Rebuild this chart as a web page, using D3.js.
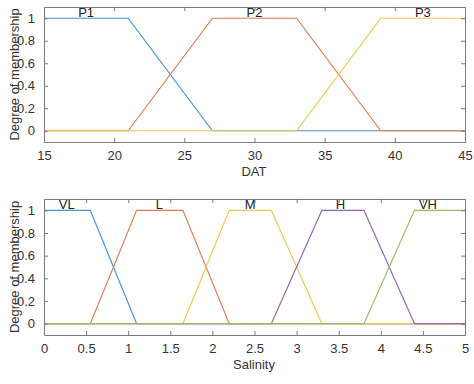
<!DOCTYPE html>
<html>
<head>
<meta charset="utf-8">
<script src="https://cdn.jsdelivr.net/npm/d3@7"></script>
<style>
body { margin: 0; background: #fff; }
text { font-family: Arial, "Liberation Sans", sans-serif; }
</style>
</head>
<body>
<svg width="474" height="384"></svg>
<script>
// membership functions, trapezoid break points [a, b, c, d]
var datNames = ['P1', 'P2', 'P3'];
var datParams = [[15, 15, 21, 27], [21, 27, 33, 39], [33, 39, 45, 45]];
var datLabelX = [18, 30, 42];
var datTicks = [15, 20, 25, 30, 35, 40, 45];

var salNames = ['VL', 'L', 'M', 'H', 'VH'];
var salParams = [[0, 0, 0.55, 1.1], [0.55, 1.1, 1.65, 2.2], [1.65, 2.2, 2.7, 3.3], [2.7, 3.3, 3.8, 4.4], [3.8, 4.4, 5, 5]];
var salLabelX = [0.27, 1.37, 2.45, 3.52, 4.56];
var salTicks = [0, 0.5, 1, 1.5, 2, 2.5, 3, 3.5, 4, 4.5, 5];

var yTicks = [0, 0.2, 0.4, 0.6, 0.8, 1];
var colors = ['#4a93cc', '#d97e5a', '#ebc94c', '#9066a8', '#99be66'];

var svg = d3.select('svg');
var fmt = d3.format('~g');

function trapPoints(p, lo, hi) {
    var pts = [];
    if (p[0] > lo) pts.push([lo, 0]);
    pts.push([p[0], p[0] == p[1] ? 1 : 0]);
    pts.push([p[1], 1]);
    pts.push([p[2], 1]);
    pts.push([p[3], p[2] == p[3] ? 1 : 0]);
    if (p[3] < hi) pts.push([hi, 0]);
    return pts;
}

function panel(top, bottom, domain, ticks, names, params, labelX, xlabel, xlabelY) {
    var x = d3.scaleLinear().domain(domain).range([44, 465]);
    var y = d3.scaleLinear().domain([-0.1, 1.1]).range([bottom, top]);
    var g = svg.append('g');

    var line = d3.line()
        .x(function(d){ return x(d[0]); })
        .y(function(d){ return y(d[1]); });

    g.selectAll('path.mf')
        .data(params)
        .enter()
        .append('path')
        .attr('class', 'mf')
        .attr('d', function(d){ return line(trapPoints(d, domain[0], domain[1])); })
        .attr('fill', 'none')
        .attr('stroke', function(d, i){ return colors[i]; })
        .attr('stroke-width', 1.2);

    g.selectAll('text.name')
        .data(names)
        .enter()
        .append('text')
        .attr('class', 'name')
        .attr('x', function(d, i){ return x(labelX[i]); })
        .attr('y', y(1) - 1.5)
        .attr('text-anchor', 'middle')
        .attr('fill', '#222')
        .style('font-size', '13px')
        .text(function(d){ return d; });

    // axes with inward ticks, box on
    var axisCol = '#7a7a7a';
    var xb = g.append('g').attr('transform', 'translate(0,' + bottom + ')')
        .call(d3.axisBottom(x).tickValues(ticks).tickSizeInner(-4).tickSizeOuter(0).tickPadding(9).tickFormat(fmt));
    var xt = g.append('g').attr('transform', 'translate(0,' + top + ')')
        .call(d3.axisTop(x).tickValues(ticks).tickSizeInner(-4).tickSizeOuter(0).tickFormat(''));
    var yl = g.append('g').attr('transform', 'translate(44,0)')
        .call(d3.axisLeft(y).tickValues(yTicks).tickSizeInner(-4).tickSizeOuter(0).tickPadding(9).tickFormat(fmt));
    var yr = g.append('g').attr('transform', 'translate(465,0)')
        .call(d3.axisRight(y).tickValues(yTicks).tickSizeInner(-4).tickSizeOuter(0).tickFormat(''));

    [xb, xt, yl, yr].forEach(function(a){
        a.select('.domain').attr('stroke', axisCol);
        a.selectAll('line').attr('stroke', axisCol);
        a.selectAll('text').attr('fill', '#333').style('font-size', '13px')
            .style('font-family', 'Arial, "Liberation Sans", sans-serif');
    });

    g.append('text')
        .attr('x', 254)
        .attr('y', xlabelY)
        .attr('text-anchor', 'middle')
        .attr('fill', '#333')
        .style('font-size', '13px')
        .text(xlabel);

    g.append('text')
        .attr('transform', 'translate(19,' + ((top + bottom) / 2) + ') rotate(-90)')
        .attr('text-anchor', 'middle')
        .attr('fill', '#333')
        .style('font-size', '13px')
        .text('Degree of membership');
}

panel(7, 142, [15, 45], datTicks, datNames, datParams, datLabelX, 'DAT', 176);
panel(199, 335, [0, 5], salTicks, salNames, salParams, salLabelX, 'Salinity', 369);
</script>
</body>
</html>
